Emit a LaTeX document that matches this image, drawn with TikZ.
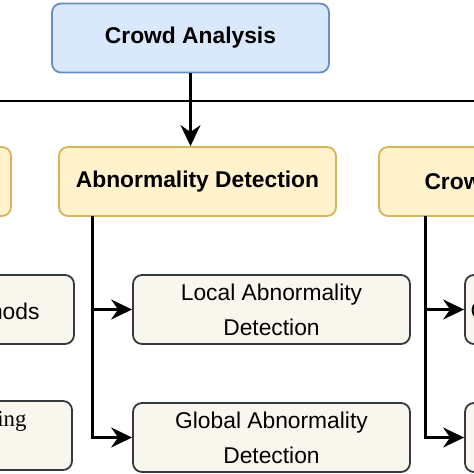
\documentclass[tikz,border=0pt]{standalone}
\usepackage{fontspec}
\setmainfont{Liberation Sans}
\newfontfamily\timesfont{Liberation Serif}
\usetikzlibrary{arrows.meta}
\definecolor{rootfill}{HTML}{DAE8FC}
\definecolor{rootline}{HTML}{6C8EBF}
\definecolor{catfill}{HTML}{FFF2CC}
\definecolor{catline}{HTML}{D6B656}
\definecolor{leaffill}{HTML}{F9F7ED}
\definecolor{leafline}{HTML}{36393D}

\begin{document}
\begin{tikzpicture}[x=1pt, y=-1pt,
    font=\fontsize{22.8}{35}\selectfont,
    box/.style={rounded corners=9pt, line width=1.8pt, minimum width=277pt, minimum height=69pt,
                inner sep=0pt, align=center},
    rootbox/.style={box, draw=rootline, fill=rootfill, font=\fontsize{22.8}{35}\selectfont\bfseries},
    catbox/.style={box, draw=catline, fill=catfill, font=\fontsize{22.8}{35}\selectfont\bfseries},
    leafbox/.style={box, draw=leafline, fill=leaffill},
    wire/.style={line width=2.2pt},
    link/.style={wire, -{Stealth[length=21pt, width=20pt, inset=7pt]}}]
  \clip (0,0) rectangle (474,474);
  \fill[white] (0,0) rectangle (474,474);

  % Root and the bus line under it.
  \node[rootbox] (crowd) at (190.5,38) {Crowd Analysis};
  \coordinate (busL) at (0,101);
  \coordinate (busR) at (474,101);
  \draw[wire] (busL) -- (busR);

  % Category row.
  \node[catbox] (catleft) at (-127.5,181.5) {};
  \node[catbox] (abnorm) at (197.5,181.5) {Abnormality Detection};
  \node[catbox] (crowdcat) at (517.5,181.5) {};
  \node[anchor=west, font=\fontsize{22.8}{35}\selectfont\bfseries] (crowdtxt) at (421,182) {Crow};

  \draw[link] (crowd.south) -- (crowd.south |- abnorm.north);

  % Leaves, left column (cut off).
  \node[leafbox] (methods) at (-64.5,309.5) {};
  \node[anchor=east] (methodstxt) at (43,311) {hods};
  \node[leafbox] (learning) at (-66.5,435.5) {};
  \node[anchor=east, font=\fontsize{22.8}{35}\selectfont\timesfont] (learningtxt) at (30,421) {ing};

  % Leaves under Abnormality Detection.
  \node[leafbox] (local) at (271.5,309.5) {Local Abnormality\\Detection};
  \node[leafbox] (global) at (271.5,437.5) {Global Abnormality\\Detection};

  % Leaves, right column (cut off).
  \node[leafbox] (rightA) at (603.5,309.5) {};
  \node[anchor=west] (rightAtxt) at (467,311) {C};
  \node[leafbox] (rightB) at (603.5,437.5) {};

  % Connectors from the categories.
  \coordinate (abnormdrop) at (92.5,216);
  \draw[wire] (abnormdrop) -- (92.5,438.5);
  \draw[link] (abnormdrop |- local.west) -- (local.west);
  \draw[link] (abnormdrop |- global.west) -- (global.west);

  \coordinate (crowddrop) at (425.5,216);
  \draw[wire] (crowddrop) -- (425.5,438.5);
  \draw[link] (crowddrop |- rightA.west) -- (rightA.west);
  \draw[link] (crowddrop |- rightB.west) -- (rightB.west);
\end{tikzpicture}
\end{document}
